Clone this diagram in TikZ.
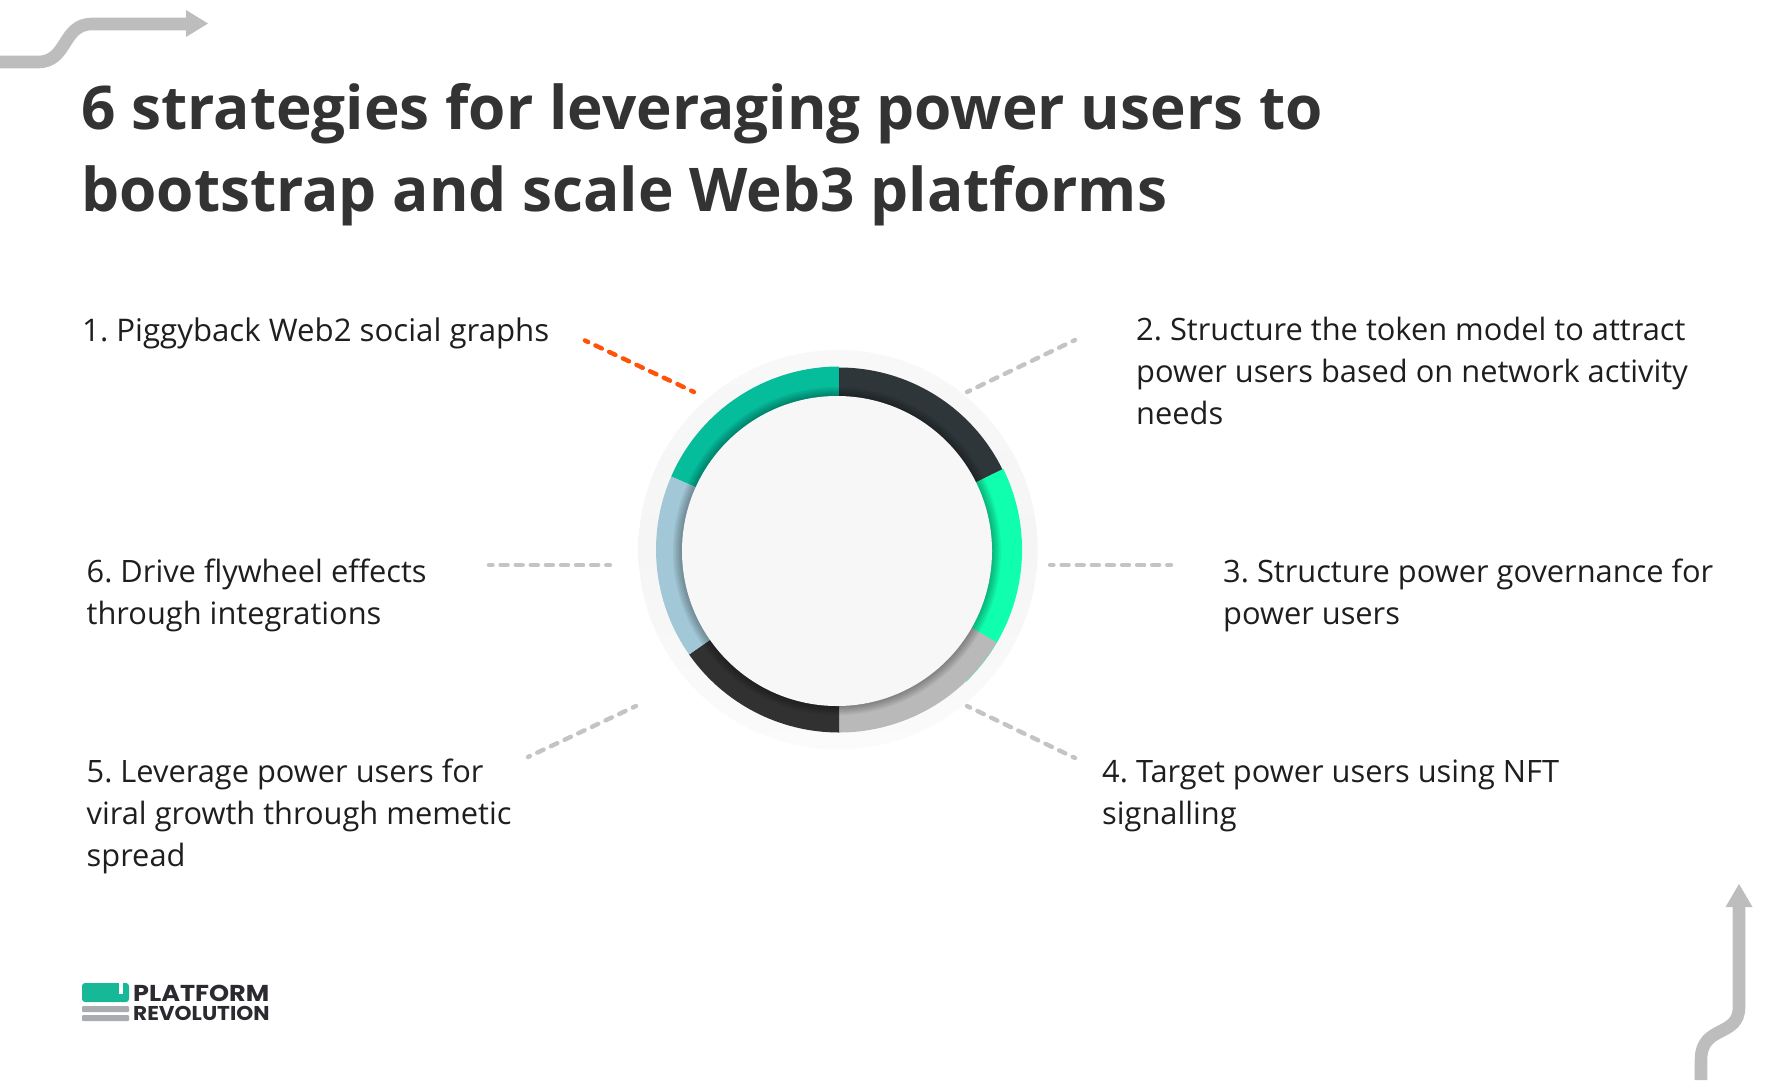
\documentclass[tikz,border=0pt]{standalone}
\usepackage{fontspec}
\setmainfont{Open Sans}
\newfontfamily\logofont{Poppins}
\frenchspacing
\definecolor{arrowgray}{HTML}{BDBDBD}
\definecolor{dashgray}{HTML}{C4C4C4}
\definecolor{dashorange}{HTML}{FF5408}
\definecolor{segteal}{HTML}{05BC9B}
\definecolor{segdark}{HTML}{2E3639}
\definecolor{segmint}{HTML}{10FFAE}
\definecolor{seggray}{HTML}{B9B9B9}
\definecolor{segblack}{HTML}{313131}
\definecolor{segblue}{HTML}{A2C7D6}
\definecolor{hub}{HTML}{F7F7F7}
\definecolor{halo}{HTML}{F5F5F5}
\definecolor{logogreen}{HTML}{17B897}
\definecolor{logogray}{HTML}{ABABB2}
\definecolor{logotext}{HTML}{2A2A30}
\definecolor{titlecol}{HTML}{333333}
\definecolor{bodycol}{HTML}{1E1E1E}
\tikzset{
  x=1pt,y=-1pt,
  titletext/.style={anchor=north west,inner sep=0pt,align=left,text=titlecol,font=\fontsize{60.3}{82}\selectfont\bfseries},
  bodytext/.style={anchor=north west,inner sep=0pt,align=left,text=bodycol,font=\fontsize{30.8}{42}\selectfont},
  dashline/.style={line width=4.4pt,draw=dashgray,line cap=round,dash pattern=on 7pt off 8.1pt,dash phase=3.5pt},
  accentdash/.style={dashline,draw=dashorange},
  bigarrow/.style={line width=12.6pt,draw=arrowgray},
  headfill/.style={fill=arrowgray,draw=none},
}
\begin{document}
\begin{tikzpicture}
\useasboundingbox (0,0) rectangle (1788,1080);
% corner arrows
\draw[bigarrow] (0,62) -- (38,62) .. controls (68,62) and (62,24) .. (92,24) -- (187,24);
\fill[headfill] (186,10) -- (208,23.5) -- (186,37) -- cycle;
\draw[bigarrow] (1701,1080) -- (1701,1060) .. controls (1701,1024) and (1739,1038) .. (1739,1007) -- (1739,905);
\fill[headfill] (1725.5,907) -- (1739,884) -- (1752.5,907) -- cycle;
% title
\node[titletext] (title) at (81,83) {6 strategies for leveraging power users to\\bootstrap and scale Web3 platforms};
% ring
\coordinate (c) at (839,549.5);
\coordinate (hc) at (837,551);
\shade[top color=halo!70!white,bottom color=halo!40!white,middle color=halo] (838,549.7) circle[radius=199.7];
\fill[segmint] (c) -- ([shift={(-26.2:183)}]c) arc[start angle=-26.2,end angle=46,radius=183.5] -- cycle;
\fill[segteal] (c) -- ([shift={(-90:183)}]c) arc[start angle=-90,end angle=-156.5,radius=183] -- cycle;
\fill[segdark] (c) -- ([shift={(-90:182)}]c) arc[start angle=-90,end angle=-26.2,radius=182] -- cycle;
\fill[seggray] (c) -- ([shift={(30.5:183)}]c) arc[start angle=30.5,end angle=90,radius=183] -- cycle;
\fill[segblack] (c) -- ([shift={(90:183)}]c) arc[start angle=90,end angle=145,radius=183] -- cycle;
\fill[segblue] (c) -- ([shift={(145:183)}]c) arc[start angle=145,end angle=203.5,radius=183] -- cycle;
% inner soft shadow
\begin{scope}
\clip (c) circle[radius=183];
\foreach \r in {1.5,3,...,9}{\fill[black,opacity=.05] (hc) circle[radius=155+\r];}
\end{scope}
\fill[hub] (hc) circle[radius=155];
% connectors
\coordinate (a1) at (585,340.5); \coordinate (b1) at (694,392);
\coordinate (a2) at (1075,340); \coordinate (b2) at (967,392);
\coordinate (a3) at (1171,565); \coordinate (b3) at (1050,565);
\coordinate (a4) at (1075,758); \coordinate (b4) at (967,706);
\coordinate (a5) at (528,757); \coordinate (b5) at (636,706);
\coordinate (a6) at (489,565); \coordinate (b6) at (610,565);
\draw[accentdash] (a1) -- (b1);
\draw[dashline] (b2) -- (a2);
\draw[dashline] (b3) -- (a3);
\draw[dashline] (b4) -- (a4);
\draw[dashline] (b5) -- (a5);
\draw[dashline] (a6) -- (b6);
% labels
\node[bodytext,font=\fontsize{31.2}{42}\selectfont] (t1) at (82,318) {1. Piggyback Web2 social graphs};
\node[bodytext] (t2) at (1136,317) {2. Structure the token model to attract\\power users based on network activity\\needs};
\node[bodytext] (t3) at (1223,559) {3. Structure power governance for\\power users};
\node[bodytext] (t4) at (1102,760) {4. Target power users using NFT\\signalling};
\node[bodytext] (t5) at (86.5,759) {5. Leverage power users for\\viral growth through memetic\\spread};
\node[bodytext] (t6) at (86.5,559) {6. Drive flywheel effects\\through integrations};
% logo
\fill[logogreen,rounded corners=3pt] (82,983) rectangle (129,1002);
\fill[white] (119,982) rectangle (123,994);
\fill[logogray,rounded corners=1pt] (82,1006) rectangle (129,1012);
\fill[logogray,rounded corners=1pt] (82,1015) rectangle (129,1021);
\node[anchor=base west,inner sep=0pt,text=logotext] (logoa) at (133,1001) {\logofont\bfseries\fontsize{23}{23}\selectfont\scalebox{1.11}[1]{PLATFORM}};
\node[anchor=base west,inner sep=0pt,text=logotext] (logob) at (133,1020) {\logofont\bfseries\fontsize{20}{20}\selectfont\scalebox{1.08}[1]{REVOLUTION}};
\end{tikzpicture}
\end{document}
